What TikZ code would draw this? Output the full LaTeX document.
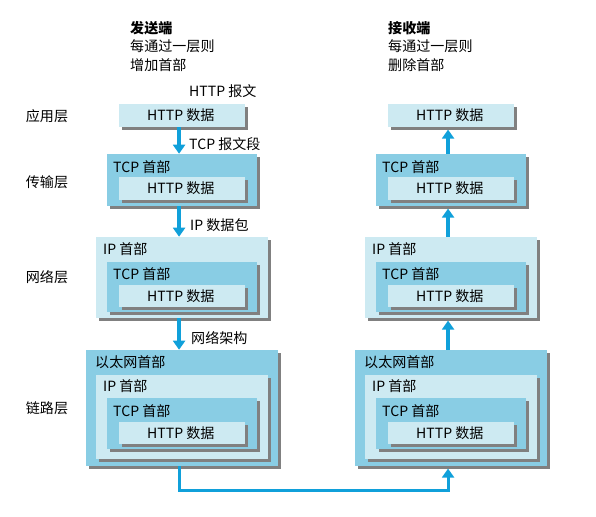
\documentclass[tikz,border=0pt]{standalone}
\usepackage{fontspec}
\setmainfont{Noto Sans CJK SC}
\usetikzlibrary{arrows.meta,fit,shadows}

\definecolor{hdrblue}{RGB}{137,205,228}
\definecolor{datblue}{RGB}{205,234,242}
\definecolor{flowblue}{RGB}{16,160,218}

\tikzset{
  box/.style={inner sep=0pt, drop shadow={shadow xshift=2.5pt, shadow yshift=-2.5pt, fill=black!50, opacity=1}},
  hdr/.style={box, fill=hdrblue},
  dat/.style={box, fill=datblue},
  txt/.style={inner sep=0pt, anchor=west},
  flow/.style={draw=flowblue, line width=3.4pt, -{Triangle[width=10.2pt,length=7.7pt]}},
}

\begin{document}
\begin{tikzpicture}[x=0.03cm, y=-0.03cm, font=\fontsize{12}{14}\selectfont]
\useasboundingbox (0,0) rectangle (596,517);

% titles
\node[inner sep=0pt, anchor=north west, align=left, font=\fontsize{12}{15.7}\selectfont] (sTitle) at (130,21) {\textbf{发送端}\\每通过一层则\\增加首部};
\node[inner sep=0pt, anchor=north west, align=left, font=\fontsize{12}{15.7}\selectfont] (rTitle) at (388,21) {\textbf{接收端}\\每通过一层则\\删除首部};

% layer names
\node (lApp) at (47,116) {应用层};
\node (lTrans) at (47,182) {传输层};
\node (lNet) at (47,277) {网络层};
\node (lLink) at (47,408) {链路层};

% sender
\node[dat, fit={(119,104)(245,127)}] (sApp) {};
\node (sAppText) at ([xshift=-1pt]sApp) {HTTP 数据};

\node[hdr, fit={(107,154)(257,206)}] (sTrans) {};
\node[txt] (sTransHdr) at (113,167) {TCP 首部};
\node[dat, fit={(119,177)(245,200)}] (sTransData) {};
\node (sTransText) at ([xshift=-1pt]sTransData) {HTTP 数据};

\node[dat, fit={(96,237)(268,318)}] (sNet) {};
\node[txt] (sNetHdr) at (103,249) {IP 首部};
\node[hdr, fit={(107,262)(257,312)}] (sNetTcp) {};
\node[txt] (sNetTcpHdr) at (113,274) {TCP 首部};
\node[dat, fit={(119,285)(245,307)}] (sNetData) {};
\node (sNetText) at ([xshift=-1pt]sNetData) {HTTP 数据};

\node[hdr, fit={(86,350)(278,466)}] (sLink) {};
\node[txt] (sLinkHdr) at (95,362) {以太网首部};
\node[dat, fit={(96,375)(268,459)}] (sLinkIp) {};
\node[txt] (sLinkIpHdr) at (103,386) {IP 首部};
\node[hdr, fit={(107,398)(257,449)}] (sLinkTcp) {};
\node[txt] (sLinkTcpHdr) at (113,411) {TCP 首部};
\node[dat, fit={(119,422)(245,444)}] (sLinkData) {};
\node (sLinkText) at ([xshift=-1pt]sLinkData) {HTTP 数据};

% receiver
\node[dat, fit={(388,104)(514,127)}] (rApp) {};
\node (rAppText) at ([xshift=-1pt]rApp) {HTTP 数据};

\node[hdr, fit={(376,154)(526,206)}] (rTrans) {};
\node[txt] (rTransHdr) at (382,167) {TCP 首部};
\node[dat, fit={(388,177)(514,200)}] (rTransData) {};
\node (rTransText) at ([xshift=-1pt]rTransData) {HTTP 数据};

\node[dat, fit={(365,237)(537,318)}] (rNet) {};
\node[txt] (rNetHdr) at (372,249) {IP 首部};
\node[hdr, fit={(376,262)(526,312)}] (rNetTcp) {};
\node[txt] (rNetTcpHdr) at (382,274) {TCP 首部};
\node[dat, fit={(388,285)(514,307)}] (rNetData) {};
\node (rNetText) at ([xshift=-1pt]rNetData) {HTTP 数据};

\node[hdr, fit={(355,350)(547,466)}] (rLink) {};
\node[txt] (rLinkHdr) at (364,362) {以太网首部};
\node[dat, fit={(365,375)(537,459)}] (rLinkIp) {};
\node[txt] (rLinkIpHdr) at (372,386) {IP 首部};
\node[hdr, fit={(376,398)(526,449)}] (rLinkTcp) {};
\node[txt] (rLinkTcpHdr) at (382,411) {TCP 首部};
\node[dat, fit={(388,422)(514,444)}] (rLinkData) {};
\node (rLinkText) at ([xshift=-1pt]rLinkData) {HTTP 数据};

% unit names
\node[txt] (nHttp) at (189,91) {HTTP 报文};
\node[txt] (nTcp) at (189,144) {TCP 报文段};
\node[txt] (nIp) at (190,225) {IP 数据包};
\node[txt] (nFrame) at (191,338) {网络架构};

% flow down and up
\draw[flow] ([xshift=-2.5pt]sApp.south) -- ([xshift=-2.5pt]sTrans.north);
\draw[flow] ([xshift=-2.5pt]sTrans.south) -- ([xshift=-2.5pt]sNet.north);
\draw[flow] ([xshift=-2.5pt]sNet.south) -- ([xshift=-2.5pt]sLink.north);
\draw[flow] ([xshift=-2.5pt]rTrans.north) -- ([xshift=-2.5pt,yshift=-2pt]rApp.south);
\draw[flow] ([xshift=-2.5pt]rNet.north) -- ([xshift=-2.5pt,yshift=-2pt]rTrans.south);
\draw[flow] ([xshift=-2.5pt]rLink.north) -- ([xshift=-2.5pt,yshift=-2pt]rNet.south);
\draw[flow, line width=2.6pt] ([xshift=-2.5pt]sLink.south) -- ++(0,24) -| ([xshift=-2.5pt,yshift=-2pt]rLink.south);
\end{tikzpicture}
\end{document}
